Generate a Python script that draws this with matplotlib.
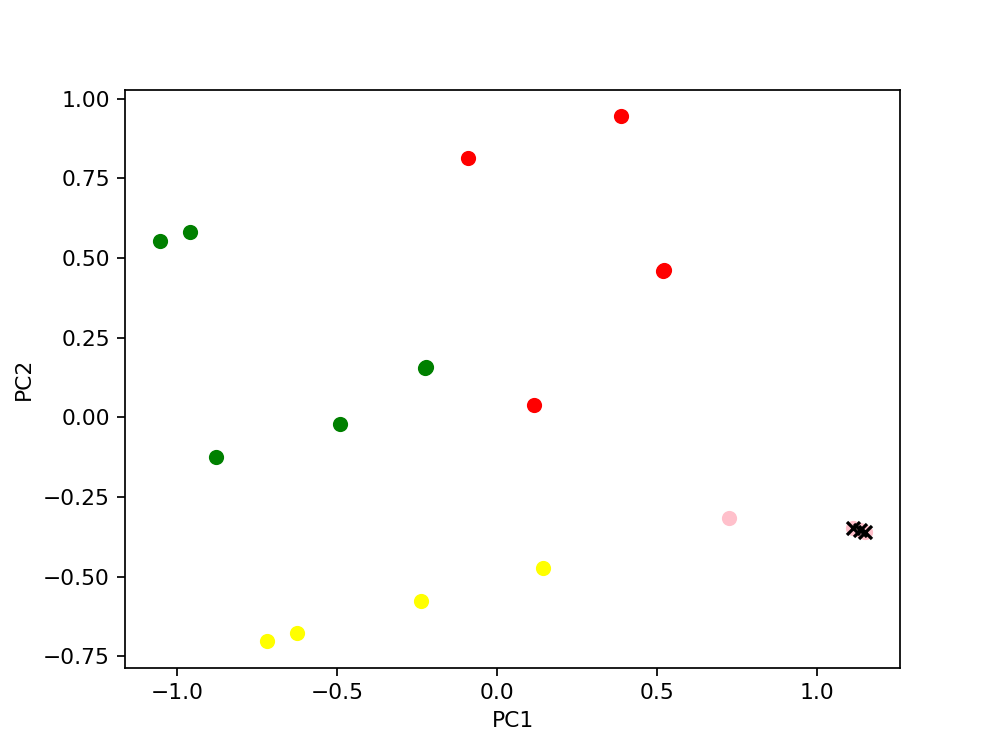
import matplotlib
matplotlib.use('Agg')
import matplotlib.pyplot as plt

# PCA coordinates per cluster
green_x = [-1.053, -0.959, -0.878, -0.491, -0.225, -0.222]
green_y = [0.553, 0.581, -0.126, -0.022, 0.154, 0.158]
red_x = [-0.091, 0.3875, 0.519, 0.522, 0.116]
red_y = [0.813, 0.945, 0.458, 0.462, 0.038]
yellow_x = [-0.719, -0.625, -0.2375, 0.144]
yellow_y = [-0.703, -0.678, -0.578, -0.474]
pink_x = [0.725, 1.113, 1.136, 1.151]
pink_y = [-0.317, -0.347, -0.354, -0.359]
black_x = [1.113, 1.136, 1.151]
black_y = [-0.347, -0.354, -0.359]

fig = plt.figure(figsize=(6.4, 4.8), dpi=156.25)
plt.scatter(green_x, green_y, c='green')
plt.scatter(red_x, red_y, c='red')
plt.scatter(yellow_x, yellow_y, c='yellow')
plt.scatter(pink_x, pink_y, c='pink')
plt.scatter(black_x, black_y, c='black', marker='x')
plt.xlabel('PC1')
plt.ylabel('PC2')
plt.savefig('out.png')
